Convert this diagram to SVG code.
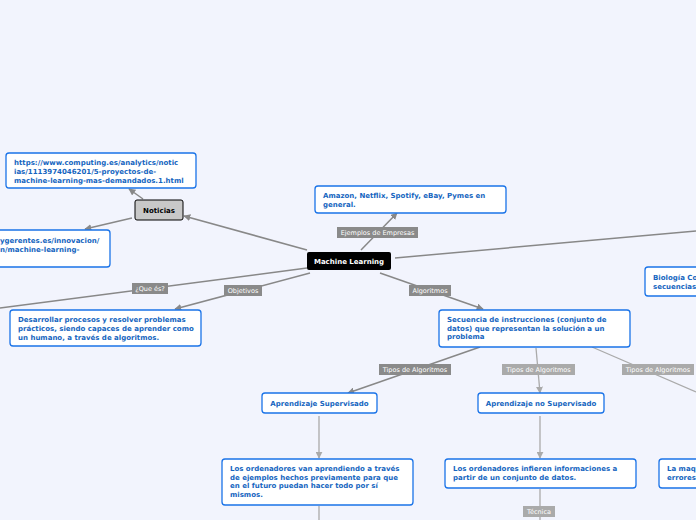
<svg xmlns="http://www.w3.org/2000/svg" width="696" height="520" viewBox="0 0 696 520">
<style>
.n{fill:#fff;stroke:#1a73e8;stroke-width:1.3}
.t{font-family:"DejaVu Sans",Verdana,sans-serif;font-weight:bold;font-size:7px;fill:#1565c0}
.e{stroke:#888;stroke-width:1.5;fill:none}
.e2{stroke:#aaa;stroke-width:1.3;fill:none}
.lb{fill:#8a8a8a}
.lb2{fill:#aaa}
.lt{font-family:"DejaVu Sans",Verdana,sans-serif;font-size:6.5px;fill:#fff;text-anchor:middle}
</style>
<defs>
<marker id="a" viewBox="0 0 10 10" refX="9" refY="5" markerWidth="7" markerHeight="7" orient="auto-start-reverse" markerUnits="userSpaceOnUse"><path d="M0,0L10,5L0,10z" fill="#888"/></marker>
<marker id="b" viewBox="0 0 10 10" refX="9" refY="5" markerWidth="7" markerHeight="7" orient="auto-start-reverse" markerUnits="userSpaceOnUse"><path d="M0,0L10,5L0,10z" fill="#aaa"/></marker>
</defs>
<rect width="696" height="520" fill="#f2f4fd"/>
<g id="connectors">
<path class="e" d="M307,250L184,216" marker-end="url(#a)"/>
<path class="e" d="M143,199L129,189" marker-end="url(#a)"/>
<path class="e" d="M132,218L85,229" marker-end="url(#a)"/>
<path class="e" d="M361,250L397,213" marker-end="url(#a)"/>
<path class="e" d="M395,258L696,231"/>
<path class="e" d="M307,268L0,308"/>
<path class="e" d="M310,273L175,309" marker-end="url(#a)"/>
<path class="e" d="M380,273L483,309" marker-end="url(#a)"/>
<path class="e" d="M480,347L348,393" marker-end="url(#a)"/>
<path class="e2" d="M536,348L540,393" marker-end="url(#b)"/>
<path class="e2" d="M592,347L696,392"/>
<path class="e2" d="M319,416L319,458" marker-end="url(#b)"/>
<path class="e2" d="M540,416L540,458" marker-end="url(#b)"/>
<path class="e2" d="M319,506L319,520"/>
<path class="e2" d="M540,489L540,520"/>
<rect class="lb" x="337" y="227" width="81" height="11"/><text class="lt" x="377.5" y="235">Ejemplos de Empresas</text>
<rect class="lb" x="132" y="283" width="36" height="11"/><text class="lt" x="150" y="291">¿Que és?</text>
<rect class="lb" x="224" y="285" width="38" height="11"/><text class="lt" x="243" y="293">Objetivos</text>
<rect class="lb" x="409" y="285" width="42" height="11"/><text class="lt" x="430" y="293">Algoritmos</text>
<rect class="lb" x="379" y="364" width="72" height="11"/><text class="lt" x="415" y="372">Tipos de Algoritmos</text>
<rect class="lb2" x="502" y="364" width="73" height="11"/><text class="lt" x="538.5" y="372">Tipos de Algoritmos</text>
<rect class="lb2" x="622" y="364" width="72" height="11"/><text class="lt" x="658" y="372">Tipos de Algoritmos</text>
<rect class="lb2" x="523" y="506" width="32" height="11"/><text class="lt" x="539" y="514">Técnica</text>
</g>
<g id="ml"><rect x="307" y="252" width="84" height="18" rx="2" fill="#000"/><text class="t" x="349" y="264" text-anchor="middle" style="fill:#fff">Machine Learning</text></g>
<g id="noticias"><rect x="135" y="200" width="48" height="20" rx="2" fill="#c8c8c8" stroke="#000" stroke-width="1"/><text class="t" x="159" y="213" text-anchor="middle" style="fill:#000">Noticias</text></g>
<g id="url1"><rect class="n" x="6" y="153" width="190" height="35" rx="3"/><text class="t" x="14" y="165">https://www.computing.es/analytics/notic</text><text class="t" x="14" y="174">ias/1113974046201/5-proyectos-de-</text><text class="t" x="14" y="183">machine-learning-mas-demandados.1.html</text></g>
<g id="url2"><rect class="n" x="-5" y="230" width="115" height="37" rx="3"/><text class="t" x="0" y="243">ygerentes.es/innovacion/</text><text class="t" x="0" y="252">n/machine-learning-</text></g>
<g id="amazon"><rect class="n" x="315" y="186" width="191" height="27" rx="3"/><text class="t" x="323" y="198">Amazon, Netflix, Spotify, eBay, Pymes en</text><text class="t" x="323" y="207">general.</text></g>
<g id="bio"><rect class="n" x="645" y="267" width="70" height="29" rx="3"/><text class="t" x="653" y="280">Biología Co</text><text class="t" x="653" y="289">secuencias</text></g>
<g id="desarrollar"><rect class="n" x="10" y="310" width="191" height="36" rx="3"/><text class="t" x="18" y="322">Desarrollar procesos y resolver problemas</text><text class="t" x="18" y="331">prácticos, siendo capaces de aprender como</text><text class="t" x="18" y="340">un humano, a través de algoritmos.</text></g>
<g id="secuencia"><rect class="n" x="439" y="310" width="191" height="37" rx="3"/><text class="t" x="447" y="322">Secuencia de instrucciones (conjunto de</text><text class="t" x="447" y="331">datos) que representan la solución a un</text><text class="t" x="447" y="339">problema</text></g>
<g id="sup"><rect class="n" x="262" y="393" width="115" height="20" rx="3"/><text class="t" x="319.5" y="406" text-anchor="middle">Aprendizaje Supervisado</text></g>
<g id="nosup"><rect class="n" x="478" y="393" width="126" height="20" rx="3"/><text class="t" x="541" y="406" text-anchor="middle">Aprendizaje no Supervisado</text></g>
<g id="ord1"><rect class="n" x="222" y="459" width="191" height="46" rx="3"/><text class="t" x="230" y="471">Los ordenadores van aprendiendo a través</text><text class="t" x="230" y="480">de ejemplos hechos previamente para que</text><text class="t" x="230" y="488">en el futuro puedan hacer todo por sí</text><text class="t" x="230" y="497">mismos.</text></g>
<g id="ord2"><rect class="n" x="445" y="459" width="191" height="29" rx="3"/><text class="t" x="453" y="471">Los ordenadores infieren informaciones a</text><text class="t" x="453" y="480">partir de un conjunto de datos.</text></g>
<g id="maq"><rect class="n" x="659" y="459" width="60" height="29" rx="3"/><text class="t" x="667" y="471">La maq</text><text class="t" x="667" y="480">errores</text></g>
</svg>
